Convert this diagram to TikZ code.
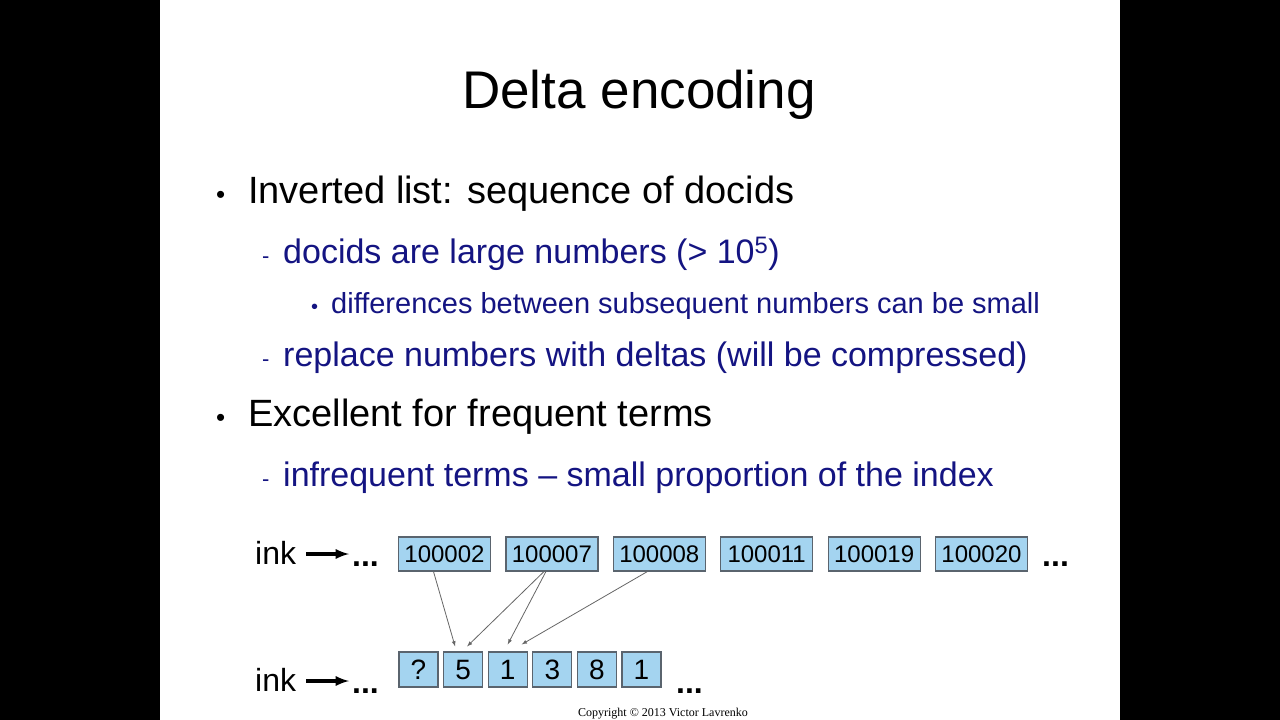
\documentclass[tikz,border=0pt]{standalone}
\usepackage{fontspec}
\setmainfont{Liberation Sans}
\usetikzlibrary{positioning}
\definecolor{subblue}{RGB}{20,20,130}
\definecolor{cellfill}{RGB}{164,212,240}
\definecolor{celldraw}{RGB}{90,100,110}
\tikzset{
  cell/.style={draw=celldraw, fill=cellfill, line width=1.2pt, inner sep=0pt,
    font=\fontsize{24}{24}\selectfont},
  bigcell/.style={cell, minimum width=92pt, minimum height=34pt},
  smallcell/.style={cell, minimum width=39pt, minimum height=35pt, font=\fontsize{28}{28}\selectfont},
  lvlone/.style={anchor=base west, inner sep=0pt, font=\fontsize{38}{38}\selectfont},
  lvltwo/.style={anchor=base west, inner sep=0pt, text=subblue, font=\fontsize{34}{34}\selectfont},
  lvlthree/.style={anchor=base west, inner sep=0pt, text=subblue, font=\fontsize{29}{29}\selectfont},
  inklabel/.style={anchor=base west, inner sep=0pt, font=\fontsize{32}{32}\selectfont},
  delta/.style={draw=black!60, line width=0.8pt, -latex}
}
\begin{document}
\begin{tikzpicture}[x=1pt,y=-1pt]
\fill[black] (0,0) rectangle (1280,720);
\fill[white] (160,0) rectangle (1120,720);

% Title
\node[anchor=base, inner sep=0pt, font=\fontsize{53}{53}\selectfont] (title) at (639,108) {Delta encoding};

% Bullets
\node[lvlone] (b1dot) at (216,203) {\fontsize{26}{26}\selectfont•};
\node[lvlone] (b1) at (248,203) {Inverted list: sequence of docids};
\node[lvltwo] (d1dash) at (262,263) {\fontsize{22}{22}\selectfont-};
\node[lvltwo] (d1) at (283,263) {docids are large numbers (> 10\textsuperscript{5})};
\node[lvlthree] (s1dot) at (311,313) {\fontsize{20}{20}\selectfont•};
\node[lvlthree] (s1) at (331,313) {differences between subsequent numbers can be small};
\node[lvltwo] (d2dash) at (262,366) {\fontsize{22}{22}\selectfont-};
\node[lvltwo] (d2) at (283,366) {replace numbers with deltas (will be compressed)};
\node[lvlone] (b2dot) at (216,426) {\fontsize{26}{26}\selectfont•};
\node[lvlone] (b2) at (248,426) {Excellent for frequent terms};
\node[lvltwo] (d3dash) at (262,486) {\fontsize{22}{22}\selectfont-};
\node[lvltwo] (d3) at (283,486) {infrequent terms -- small proportion of the index};

% Docid list
\node[inklabel] (inkA) at (255,564) {ink};
\draw[line width=3.5pt, -latex] (306,554) -- (349,554);
\node[inklabel] (dotsA) at (352,566) {\textbf{...}};
\foreach \v [count=\i] in {100002,100007,100008,100011,100019,100020}
  \node[bigcell] (top\i) at ({444.5+107.4*(\i-1)},554) {\v};
\node[inklabel] (dotsB) at (1042,566) {\textbf{...}};

% Delta list
\node[inklabel] (inkB) at (255,691) {ink};
\draw[line width=3.5pt, -latex] (306,681) -- (349,681);
\node[inklabel] (dotsC) at (352,693) {\textbf{...}};
\foreach \v [count=\i] in {?,5,1,3,8,1}
  \node[smallcell] (bot\i) at ({418.5+44.6*(\i-1)},669.5) {\v};
\node[inklabel] (dotsD) at (676,693) {\textbf{...}};

% Delta arrows
\draw[delta] ([xshift=-11pt]top1.south) -- ([xshift=-8pt,yshift=5pt]bot2.north);
\draw[delta] ([xshift=-8pt]top2.south) -- ([xshift=4pt,yshift=5pt]bot2.north);
\draw[delta] ([xshift=-6pt]top2.south) -- ([xshift=0pt,yshift=7pt]bot3.north);
\draw[delta] ([xshift=-12pt]top3.south) -- ([xshift=14pt,yshift=7pt]bot3.north);

\node[anchor=base, inner sep=0pt, font=\fontsize{12}{12}\selectfont\rmfamily] (copy) at (663,716)
  {\setmainfont{Liberation Serif}Copyright © 2013 Victor Lavrenko};
\end{tikzpicture}
\end{document}
